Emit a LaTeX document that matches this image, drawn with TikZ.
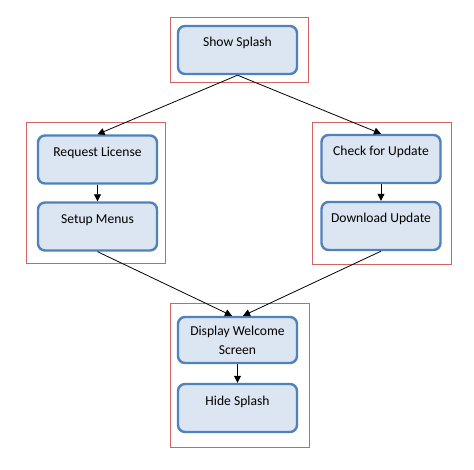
\documentclass[tikz,border=0pt]{standalone}
\usepackage{fontspec}
\setmainfont{Carlito}
\usetikzlibrary{arrows.meta,calc}
\definecolor{boxfill}{RGB}{220,230,242}
\definecolor{boxline}{RGB}{79,129,189}
\definecolor{framered}{RGB}{208,100,100}
\tikzset{
  flowbase/.style={draw=boxline, line width=2.4pt, fill=boxfill, rounded corners=7pt,
    minimum width=119pt, inner xsep=0pt, inner ysep=0pt, align=center,
    font=\fontsize{13.6}{19}\selectfont},
  flowbox/.style={flowbase, text height=21pt, text depth=27pt},
  groupframe/.style={draw=framered, line width=0.9pt},
  flowarrow/.style={draw=black, line width=0.8pt, -{Triangle[length=7pt,width=7pt]}}
}
\begin{document}
\begin{tikzpicture}[x=1pt,y=-1pt]
\useasboundingbox (0,0) rectangle (474,470);
% group frames
\draw[groupframe] (170,17) rectangle (308,82);
\draw[groupframe] (26,122) rectangle (165,263);
\draw[groupframe] (312,122) rectangle (451,264);
\draw[groupframe] (170,303) rectangle (309,447);
% boxes
\node[flowbox] (show) at (237.5,50) {Show Splash};
\node[flowbox] (req) at (97.5,159.5) {Request License};
\node[flowbox] (menus) at (97.5,226.5) {Setup Menus};
\node[flowbox] (check) at (381,159) {Check for Update};
\node[flowbox] (down) at (381,226) {Download Update};
\node[flowbase, minimum height=46pt] (disp) at (237.5,340) {Display Welcome\\Screen};
\node[flowbox] (hide) at (237.5,408) {Hide Splash};
% connectors
\draw[flowarrow] (show.south) -- (req.north);
\draw[flowarrow] (show.south) -- (check.north);
\draw[flowarrow] (req.south) -- (menus.north);
\draw[flowarrow] (check.south) -- (down.north);
\draw[flowarrow] (menus.south) -- ($(disp.north)+(-5.5,0)$);
\draw[flowarrow] (down.south) -- ($(disp.north)+(5.5,0)$);
\draw[flowarrow] (disp.south) -- (hide.north);
\end{tikzpicture}
\end{document}
